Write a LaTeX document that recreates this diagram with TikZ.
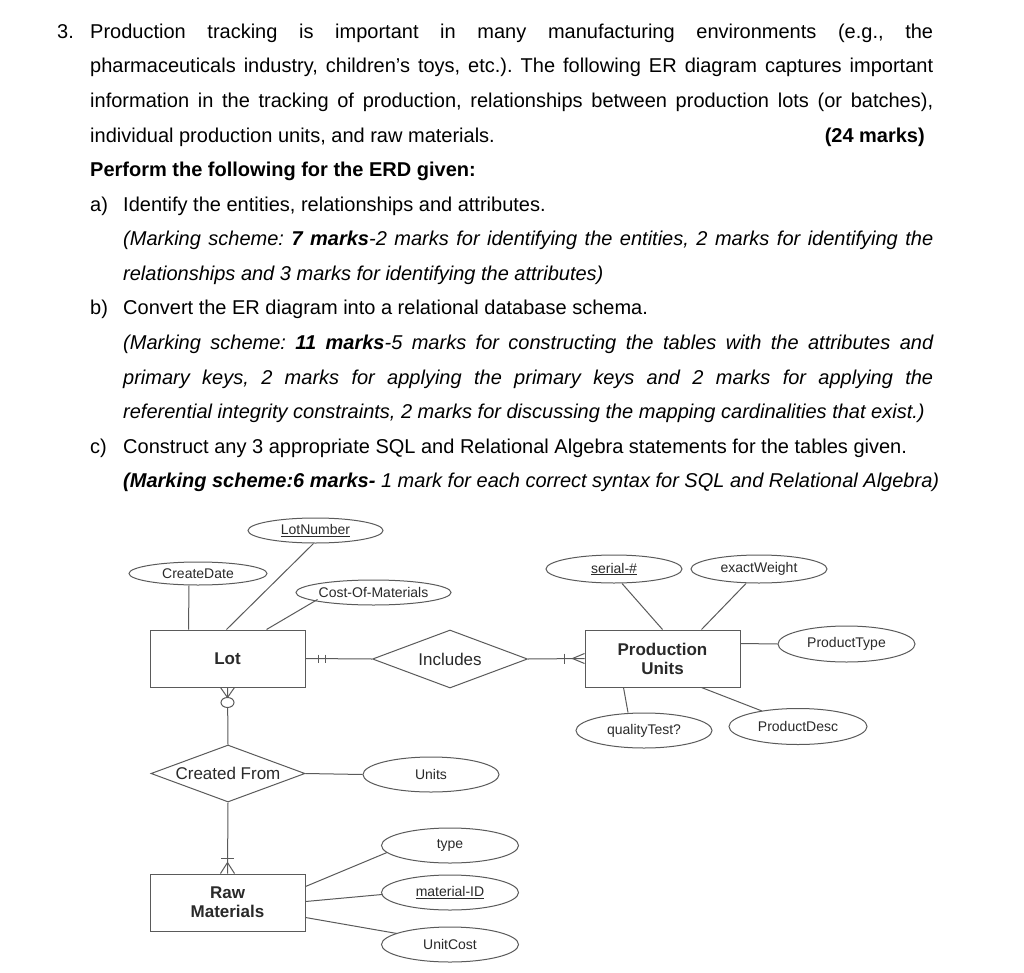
\documentclass[tikz,border=0pt]{standalone}
\usepackage{fontspec}
\setmainfont{Liberation Sans}
\usetikzlibrary{shapes.geometric,calc}
\definecolor{lg}{HTML}{5a5a5a}
\definecolor{dtxt}{HTML}{2a2a2a}
\frenchspacing
\begin{document}
\frenchspacing
\begin{tikzpicture}[x=1pt,y=-1pt,
 txt/.style={anchor=base west,inner sep=0pt,font=\frenchspacing\fontsize{20}{24}\selectfont,text=black},
 txtr/.style={anchor=base east,inner sep=0pt,font=\bfseries\fontsize{20}{24}\selectfont,text=black},
 attr/.style={ellipse,draw=lg,line width=1pt,inner sep=0pt,text=dtxt,font=\fontsize{14}{16}\selectfont},
 ent/.style={rectangle,draw=lg,line width=1pt,minimum width=155pt,minimum height=57pt,inner sep=0pt,align=center,text=dtxt,font=\bfseries\fontsize{17}{19}\selectfont},
 rel/.style={diamond,draw=lg,line width=1pt,aspect=2.7,inner sep=0pt,text=dtxt,font=\fontsize{17}{19}\selectfont},
 conn/.style={draw=lg,line width=1pt}]
\fill[white] (0,0) rectangle (1024,973);
\useasboundingbox (0,0) rectangle (1024,973);

% ---------- question text ----------
\node[txt] (n3) at (57,38.5) {3.};
\node[txt] (l1) at (90,38.5) {\makebox[843pt][s]{Production tracking is important in many manufacturing environments (e.g., the}};
\node[txt] (l2) at (90,73) {\makebox[843pt][s]{pharmaceuticals industry, children’s toys, etc.). The following ER diagram captures important}};
\node[txt] (l3) at (90,107.6) {\makebox[843pt][s]{information in the tracking of production, relationships between production lots (or batches),}};
\node[txt] (l4) at (90,142.2) {individual production units, and raw materials.};
\node[txtr] (l4r) at (925,142.2) {(24 marks)};
\node[txt] (l5) at (90,176.7) {\bfseries Perform the following for the ERD given:};
\node[txt] (la) at (90,211.3) {a)};
\node[txt] (l6) at (123,211.3) {Identify the entities, relationships and attributes.};
\node[txt] (l7) at (123,245.8) {\makebox[810pt][s]{\itshape (Marking scheme: \textbf{7 marks}-2 marks for identifying the entities, 2 marks for identifying the}};
\node[txt] (l8) at (123,280.4) {\itshape relationships and 3 marks for identifying the attributes)};
\node[txt] (lb) at (90,314.9) {b)};
\node[txt] (l9) at (123,314.9) {Convert the ER diagram into a relational database schema.};
\node[txt] (l10) at (123,349.5) {\makebox[810pt][s]{\itshape (Marking scheme: \textbf{11 marks}-5 marks for constructing the tables with the attributes and}};
\node[txt] (l11) at (123,384) {\makebox[810pt][s]{\itshape primary keys, 2 marks for applying the primary keys and 2 marks for applying the}};
\node[txt] (l12) at (123,418.6) {\itshape referential integrity constraints, 2 marks for discussing the mapping cardinalities that exist.)};
\node[txt] (lc) at (90,453.1) {c)};
\node[txt] (l13) at (123,453.1) {Construct any 3 appropriate SQL and Relational Algebra statements for the tables given.};
\node[txt] (l14) at (123,487.7) {\itshape\textbf{(Marking scheme:6 marks-} 1 mark for each correct syntax for SQL and Relational Algebra)};

% ---------- entities ----------
\node[ent] (Lot) at (227.5,658.5) {Lot};
\node[ent] (PU) at (662.5,658.5) {Production\\Units};
\node[ent] (Raw) at (227.5,902.5) {Raw\\Materials};

% ---------- relationships ----------
\node[rel,minimum width=155pt,minimum height=58pt] (Inc) at (450,659) {Includes};
\node[rel,minimum width=154pt,minimum height=57pt] (CF) at (228,773.5) {Created From};

% ---------- attributes ----------
\node[attr,minimum width=135pt,minimum height=25pt] (LN) at (315.5,530.5) {\underline{LotNumber}};
\node[attr,minimum width=138pt,minimum height=23pt] (CD) at (198,573.5) {CreateDate};
\node[attr,minimum width=137pt,minimum height=25pt] (COM) at (373.5,592.5) {Cost-Of-Materials};
\node[attr,minimum width=136pt,minimum height=28pt] (SN) at (614,569) {\underline{serial-\#}};
\node[attr,minimum width=136pt,minimum height=28pt] (EW) at (759,569) {exactWeight};
\node[attr,minimum width=137pt,minimum height=36pt] (PT) at (846.5,644) {ProductType};
\node[attr,minimum width=136pt,minimum height=35pt] (QT) at (644,730.5) {qualityTest?};
\node[attr,minimum width=138pt,minimum height=36pt] (PD) at (798,726.5) {ProductDesc};
\node[attr,minimum width=136pt,minimum height=35pt] (UN) at (431,774.5) {Units};
\node[attr,minimum width=137pt,minimum height=35pt] (TY) at (450,845.5) {type};
\node[attr,minimum width=137pt,minimum height=35pt] (MI) at (450,892.5) {\underline{material-ID}};
\node[attr,minimum width=137pt,minimum height=35pt] (UC) at (450,944.5) {UnitCost};

% ---------- attribute connectors ----------
\draw[conn] ($(CD.south)+(-9,0)$) -- ($(Lot.north west)+(39,0)$);
\draw[conn] ($(LN.south)+(-2,0)$) -- ($(Lot.north west)+(77,0)$);
\draw[conn] ($(COM.center)+(-56,7)$) -- ($(Lot.north west)+(117,0)$);
\draw[conn] ($(SN.south)+(8,0)$) -- ($(PU.north west)+(78,0)$);
\draw[conn] ($(EW.south)+(-13,0)$) -- ($(PU.north west)+(117,0)$);
\draw[conn] ($(PU.north east)+(0,14)$) -- (PT.west);
\draw[conn] ($(PU.south west)+(39,0)$) -- ($(QT.north)+(-16,0)$);
\draw[conn] ($(PU.south west)+(117,0)$) -- ($(PD.center)+(-36,-15.5)$);
\draw[conn] (CF.east) -- (UN.west);
\draw[conn] ($(Raw.north east)+(0,13)$) -- ($(TY.center)+(-63,7)$);
\draw[conn] ($(Raw.north east)+(0,28)$) -- ($(MI.center)+(-68,2)$);
\draw[conn] ($(Raw.north east)+(0,44)$) -- ($(UC.center)+(-53,-11)$);

% ---------- relationship connectors ----------
\draw[conn] (Lot.east) -- (Inc.west);
\draw[conn] ($(Lot.east)+(13,-4)$) -- ++(0,8);
\draw[conn] ($(Lot.east)+(20,-4)$) -- ++(0,8);

\draw[conn] (Inc.east) -- (PU.west);
\draw[conn] ($(PU.west)+(-20,-5)$) -- ++(0,10);
\draw[conn] ($(PU.west)+(0,-5)$) -- ($(PU.west)+(-12,0)$) -- ($(PU.west)+(0,5)$);

\draw[conn] (Lot.south) -- (CF.north);
\draw[conn] ($(Lot.south)+(-7,0)$) -- ($(Lot.south)+(0,10)$) -- ($(Lot.south)+(7,0)$);
\filldraw[conn,fill=white] ($(Lot.south)+(0,15)$) ellipse [x radius=6.5pt, y radius=5pt];

\draw[conn] (CF.south) -- (Raw.north);
\draw[conn] ($(Raw.north)+(-6.5,-15)$) -- ++(13,0);
\draw[conn] ($(Raw.north)+(-7,0)$) -- ($(Raw.north)+(0,-11)$) -- ($(Raw.north)+(7,0)$);
\end{tikzpicture}
\end{document}
